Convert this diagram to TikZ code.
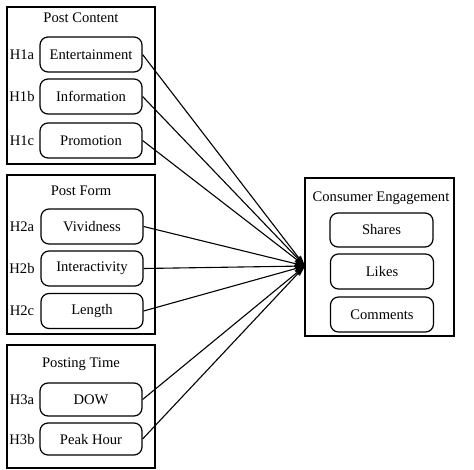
\documentclass[tikz,border=0pt]{standalone}
\usepackage{fontspec}
\setmainfont{Liberation Serif}
\usetikzlibrary{arrows.meta}
\tikzset{
  group/.style={draw, line width=1.3pt, minimum width=148pt, inner sep=0pt},
  item/.style={draw, rounded corners=8pt, line width=1.2pt, minimum width=102pt, minimum height=35pt, inner sep=0pt},
  hlabel/.style={inner sep=0pt},
  title/.style={inner sep=0pt},
  link/.style={line width=1.1pt, -{Stealth[length=11pt,width=6pt,inset=2pt]}}
}
\begin{document}
\begin{tikzpicture}[x=1pt,y=-1pt,font=\fontsize{14.6}{16}\selectfont]
\useasboundingbox (0,0) rectangle (474,469);
% Group 1
\node[group, minimum height=157pt] (g1) at (81,85.5) {};
\node[title] (t1) at (81,18) {Post Content};
\node[item] (ent) at (91,54.5) {Entertainment};
\node[item] (inf) at (91,96.5) {Information};
\node[item] (pro) at (91,140.5) {Promotion};
\node[hlabel] (h1a) at (22,54.5) {H1a};
\node[hlabel] (h1b) at (22,96.5) {H1b};
\node[hlabel] (h1c) at (22,140.5) {H1c};
% Group 2
\node[group, minimum height=159pt] (g2) at (81,254.5) {};
\node[title] (t2) at (81,191) {Post Form};
\node[item] (viv) at (92,226.5) {Vividness};
\node[item] (int) at (92,268.5) {Interactivity};
\node[item] (len) at (92,311) {Length};
\node[hlabel] (h2a) at (22,226.5) {H2a};
\node[hlabel] (h2b) at (22,268.5) {H2b};
\node[hlabel] (h2c) at (22,311) {H2c};
% Group 3
\node[group, minimum height=123pt] (g3) at (81,406.5) {};
\node[title] (t3) at (81,364) {Posting Time};
\node[item, minimum height=33pt] (dow) at (91,399.5) {DOW};
\node[item, minimum height=32pt] (pk) at (91,439) {Peak Hour};
\node[hlabel] (h3a) at (22,399.5) {H3a};
\node[hlabel] (h3b) at (22,439) {H3b};
% Consumer engagement
\node[group, minimum width=149pt, minimum height=158pt] (ce) at (379.5,257) {};
\node[title] (t4) at (381,198) {Consumer Engagement};
\node[item, minimum width=103pt, minimum height=34pt] (sh) at (381.5,230) {Shares};
\node[item, minimum width=103pt] (lk) at (382,271.5) {Likes};
\node[item, minimum width=103pt] (cm) at (382,314.5) {Comments};
% connectors
\coordinate (tip) at (305,266);
\foreach \n in {ent,inf,pro,viv,int,len,dow,pk}{
  \draw[link] (\n.east) -- (tip);
}
\end{tikzpicture}
\end{document}
